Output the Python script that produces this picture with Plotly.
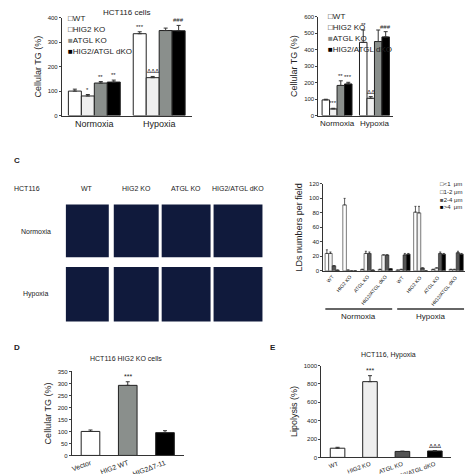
import plotly.graph_objects as go

groups = ["Normoxia", "Hypoxia"]
genotypes = ["WT", "HIG2 KO", "ATGL KO", "HIG2/ATGL dKO"]
colors4 = ["#ffffff", "#efefef", "#8a8f8c", "#000000"]

a_vals = [[100, 335], [80, 155], [133, 348], [137, 347]]
a_err = [[8, 8], [6, 5], [6, 10], [8, 22]]
a_marks = [["", "***"], ["*", "ΔΔΔ"], ["**", ""], ["**", "###"]]

b_vals = [[95, 445], [40, 105], [183, 450], [192, 478]]
b_err = [[4, 75], [4, 10], [28, 70], [10, 32]]
b_marks = [["", "**"], ["***", "ΔΔ"], ["**", ""], ["***", "###"]]

c_cats = ["WT", "HIG2 KO", "ATGL KO", "HIG2/ATGL dKO", "WT ", "HIG2 KO ", "ATGL KO ", "HIG2/ATGL dKO "]
c_sizes = ["<1  μm", "1-2 μm", "2-4 μm", ">4  μm"]
c_colors = ["#ffffff", "#f4f4f4", "#555555", "#000000"]
c_vals = [
    [24, 91, 2, 2, 1, 81, 2, 2],
    [24, 1, 24, 22, 2, 80, 4, 2],
    [7, 0, 24, 22, 22, 4, 24, 25],
    [1, 0, 1, 3, 23, 0, 23, 23],
]
c_err = [
    [5, 9, 0, 0, 0, 8, 0, 0],
    [2, 0, 3, 0, 0, 9, 0, 0],
    [0, 0, 2, 0, 2, 0, 2, 2],
    [0, 0, 0, 0, 1, 0, 1, 1],
]

d_cats = ["Vector", "HIG2 WT", "HIG2Δ7-11"]
d_vals = [100, 292, 95]
d_err = [6, 15, 8]
d_colors = ["#ffffff", "#8a8f8c", "#000000"]

e_cats = ["WT", "HIG2 KO", "ATGL KO", "HIG2/ATGL dKO"]
e_vals = [100, 825, 65, 70]
e_err = [10, 65, 3, 4]
e_colors = ["#ffffff", "#efefef", "#555555", "#000000"]

img_cols = ["WT", "HIG2 KO", "ATGL KO", "HIG2/ATGL dKO"]
img_rows = ["Normoxia", "Hypoxia"]

W = H = 474
def px(x): return x / W
def py(y): return 1 - y / H

fig = go.Figure()
F = dict(family="Arial, Liberation Sans", color="#222")

layout = {}
def setax(n, x0, x1, ytop, ybot, yr, dt, ytitle, tickangle=0, xsize=9):
    xa = "xaxis" if n == 1 else f"xaxis{n}"
    ya = "yaxis" if n == 1 else f"yaxis{n}"
    layout[xa] = dict(domain=[px(x0), px(x1)], anchor=f"y{'' if n==1 else n}", showline=True,
                      linecolor="#333", ticks="", tickangle=tickangle,
                      tickfont=dict(size=xsize, **F), showgrid=False)
    layout[ya] = dict(domain=[py(ybot), py(ytop)], anchor=f"x{'' if n==1 else n}", range=yr, dtick=dt,
                      showline=True, linecolor="#333", ticks="outside", ticklen=2, showgrid=False,
                      tickfont=dict(size=6, **F), title=dict(text=ytitle, font=dict(size=9, **F), standoff=4))

setax(1, 53, 183, 7, 107, [0, 400], 100, "Cellular TG (%)", xsize=9)
setax(2, 310, 385, 6, 107, [0, 600], 100, "Cellular TG (%)", xsize=8)
setax(3, 315, 457, 177, 266, [0, 120], 20, "LDs numbers per field", tickangle=-50, xsize=5)
setax(4, 63, 175, 369, 455, [0, 350], 50, "Cellular TG (%)", tickangle=-20, xsize=7)
setax(5, 313, 443, 363, 457, [0, 1000], 200, "Lipolysis (%)", tickangle=-20, xsize=6)

ann = []
def eb(arr, th=1, w=2):
    return dict(type="data", array=arr, symmetric=False, arrayminus=[0]*len(arr), color="#333", thickness=th, width=w)

for i, g in enumerate(genotypes):
    fig.add_bar(x=groups, y=a_vals[i], error_y=eb(a_err[i]),
                marker=dict(color=colors4[i], line=dict(color="#222", width=1)), name=g, xaxis="x", yaxis="y")
    fig.add_bar(x=groups, y=b_vals[i], error_y=eb(b_err[i]),
                marker=dict(color=colors4[i], line=dict(color="#222", width=1)), name=g, xaxis="x2", yaxis="y2")
    for j in range(2):
        off = -0.3 + 0.2 * i
        if a_marks[i][j]:
            ann.append(dict(x=j + off, y=a_vals[i][j] + a_err[i][j], xref="x", yref="y", text=a_marks[i][j], showarrow=False, yanchor="bottom", font=dict(size=6, **F)))
        if b_marks[i][j]:
            ann.append(dict(x=j + off, y=b_vals[i][j] + b_err[i][j], xref="x2", yref="y2", text=b_marks[i][j], showarrow=False, yanchor="bottom", font=dict(size=6, **F)))

for k, s in enumerate(c_sizes):
    fig.add_bar(x=c_cats, y=c_vals[k], error_y=eb(c_err[k], 0.8, 1),
                marker=dict(color=c_colors[k], line=dict(color="#222", width=0.6)), name=s, xaxis="x3", yaxis="y3")

fig.add_bar(x=d_cats, y=d_vals, error_y=eb(d_err),
            marker=dict(color=d_colors, line=dict(color="#222", width=1)), width=0.5, xaxis="x4", yaxis="y4")
fig.add_bar(x=e_cats, y=e_vals, error_y=eb(e_err),
            marker=dict(color=e_colors, line=dict(color="#222", width=1)), width=0.45, xaxis="x5", yaxis="y5")
ann.append(dict(x=1, y=d_vals[1] + d_err[1], xref="x4", yref="y4", text="***", showarrow=False, yanchor="bottom", font=dict(size=7, **F)))
ann.append(dict(x=1, y=e_vals[1] + e_err[1], xref="x5", yref="y5", text="***", showarrow=False, yanchor="bottom", font=dict(size=7, **F)))
ann.append(dict(x=3, y=e_vals[3] + e_err[3], xref="x5", yref="y5", text="ΔΔΔ", showarrow=False, yanchor="bottom", font=dict(size=6, **F)))

def t(x, y, s, size=8, bold=False, xanchor="center"):
    ann.append(dict(x=px(x), y=py(y), xref="paper", yref="paper", text=f"<b>{s}</b>" if bold else s, showarrow=False,
                    xanchor=xanchor, yanchor="middle", font=dict(size=size, **F)))

def legend(x, y, names, cols, size, step):
    for k, (nm, c) in enumerate(zip(names, cols)):
        sym = "□" if c in ("#ffffff", "#efefef", "#f4f4f4") else f"<span style='color:{c}'>■</span>"
        t(x, y + k * step, sym + nm, size, False, "left")

legend(57, 8, genotypes, colors4, 8, 11)
legend(318, 6, genotypes, colors4, 8, 11)
legend(430, 177, c_sizes, c_colors, 6, 8)

t(118, 2, "HCT116 cells", 8)
t(3, 153, "C", 8, True, "left")
t(3, 182, "HCT116", 7, False, "left")
t(3, 345, "D", 8, True, "left")
t(260, 345, "E", 8, True, "left")
t(117, 356, "HCT116 HIG2 KO cells", 7)
t(380, 352, "HCT116, Hypoxia", 7)
t(27, 226, "Normoxia", 7)
t(27, 290, "Hypoxia", 7)

shapes = []
xs = [(57, 100), (105, 150), (153, 202), (205, 254)]
ys = [(198, 252), (262, 318)]
for ci, c in enumerate(img_cols):
    t((xs[ci][0] + xs[ci][1]) / 2, 182, c, 7)
    for r in ys:
        shapes.append(dict(type="rect", xref="paper", yref="paper", x0=px(xs[ci][0]), x1=px(xs[ci][1]),
                           y0=py(r[1]), y1=py(r[0]), fillcolor="#101a3c", line=dict(width=0)))
shapes.append(dict(type="line", xref="paper", yref="paper", x0=px(317), x1=px(384), y0=py(305), y1=py(305), line=dict(color="#666", width=2)))
shapes.append(dict(type="line", xref="paper", yref="paper", x0=px(389), x1=px(456), y0=py(305), y1=py(305), line=dict(color="#666", width=2)))
t(350, 313, "Normoxia", 8)
t(422, 313, "Hypoxia", 8)

fig.update_layout(**layout, width=W, height=H, margin=dict(l=0, r=0, t=0, b=0), plot_bgcolor="white", paper_bgcolor="white",
                  barmode="group", bargap=0.2, bargroupgap=0, showlegend=False, annotations=ann, shapes=shapes)
fig.write_html("out.html")
